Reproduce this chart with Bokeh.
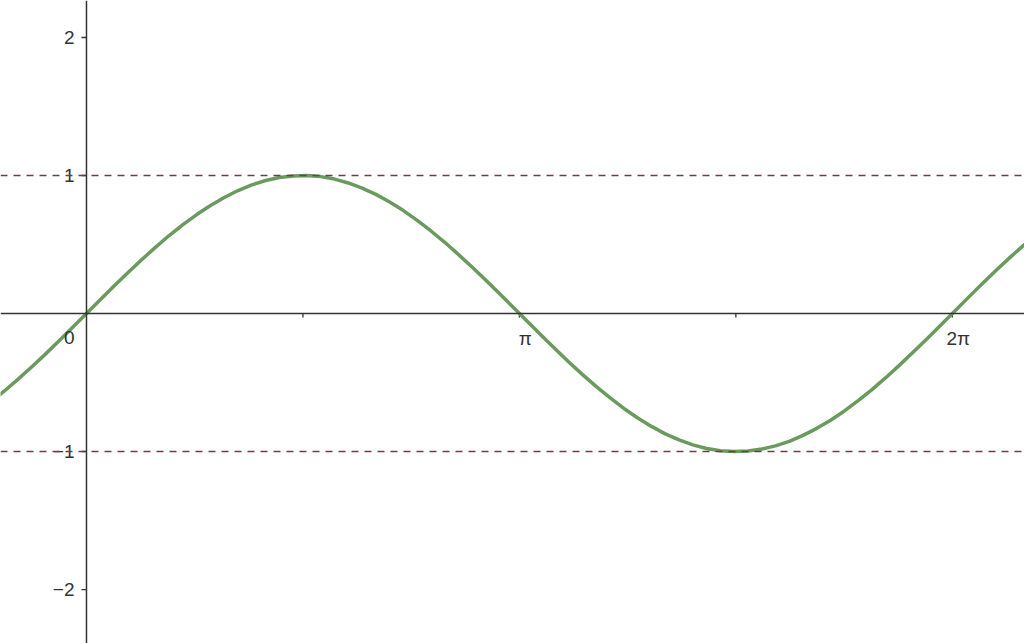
import numpy as np
from bokeh.plotting import figure
from bokeh.models import Span
from bokeh.core.properties import value
from bokeh.embed import file_html
from bokeh.resources import INLINE

# curve (x in radians, y = f(x))
curve_x = [-0.7, -0.6, -0.5, -0.4, -0.3, -0.2, -0.1, 0.0, 0.1, 0.2, 0.3, 0.4,
           0.5, 0.6, 0.7, 0.8, 0.9, 1.0, 1.1, 1.2, 1.3, 1.4, 1.5, 1.6,
           1.7, 1.8, 1.9, 2.0, 2.1, 2.2, 2.3, 2.4, 2.5, 2.6, 2.7, 2.8,
           2.9, 3.0, 3.1, 3.2, 3.3, 3.4, 3.5, 3.6, 3.7, 3.8, 3.9, 4.0,
           4.1, 4.2, 4.3, 4.4, 4.5, 4.6, 4.7, 4.8, 4.9, 5.0, 5.1, 5.2,
           5.3, 5.4, 5.5, 5.6, 5.7, 5.8, 5.9, 6.0, 6.1, 6.2, 6.3, 6.4,
           6.5, 6.6, 6.7, 6.8, 6.9]
curve_y = [-0.644, -0.565, -0.479, -0.389, -0.296, -0.199, -0.100, 0.000, 0.100, 0.199, 0.296, 0.389,
           0.479, 0.565, 0.644, 0.717, 0.783, 0.841, 0.891, 0.932, 0.964, 0.985, 0.997, 1.000,
           0.992, 0.974, 0.946, 0.909, 0.863, 0.808, 0.746, 0.675, 0.598, 0.516, 0.427, 0.335,
           0.239, 0.141, 0.042, -0.058, -0.158, -0.256, -0.351, -0.443, -0.530, -0.612, -0.688, -0.757,
           -0.818, -0.872, -0.916, -0.952, -0.978, -0.994, -1.000, -0.996, -0.982, -0.959, -0.926, -0.883,
           -0.832, -0.773, -0.706, -0.631, -0.551, -0.465, -0.374, -0.279, -0.182, -0.083, 0.017, 0.117,
           0.215, 0.312, 0.405, 0.494, 0.578]

# dashed bounds
bound_levels = [1.0, -1.0]

# axis ticks
x_ticks = [np.pi / 2, np.pi, 3 * np.pi / 2, 2 * np.pi]
x_tick_labels = ["", "π", "", "2π"]
y_ticks = [2, 1, -1, -2]
y_tick_labels = ["2", "1", "−1", "−2"]

FONT = value("Liberation Sans")
AXIS_COLOR = "#333333"
PX = 1 / 137.8  # one screen pixel in data units

p = figure(width=1024, height=643, output_backend="svg", toolbar_location=None,
           x_range=(-0.624, 6.807), y_range=(-2.391, 2.268),
           x_axis_type=None, y_axis_type=None, min_border=0)
p.grid.visible = False
p.outline_line_color = None
p.background_fill_color = "white"

# axes through the origin
p.add_layout(Span(location=0, dimension="width", line_color=AXIS_COLOR, line_width=1.5))
p.add_layout(Span(location=0, dimension="height", line_color=AXIS_COLOR, line_width=1.5))

# tick marks
p.segment(x0=x_ticks, y0=[0] * len(x_ticks), x1=x_ticks, y1=[-4 * PX] * len(x_ticks),
          line_color=AXIS_COLOR, line_width=1.3)
p.segment(x0=[-5 * PX] * len(y_ticks), y0=y_ticks, x1=[0] * len(y_ticks), y1=y_ticks,
          line_color=AXIS_COLOR, line_width=1.3)

# the curve
p.line(curve_x, curve_y, line_color="#6a9a5e", line_width=3.5, line_join="round")

# dashed lines at +-1
for lvl in bound_levels:
    p.add_layout(Span(location=lvl, dimension="width", line_color="#6b3f45",
                      line_width=1.4, line_dash="7 6"))

# tick labels
p.text(x_ticks, [0] * len(x_ticks), text=x_tick_labels, text_font=FONT,
       text_font_size="19px", text_color=AXIS_COLOR, text_align="center",
       text_baseline="alphabetic", x_offset=6, y_offset=25)
p.text([0] * len(y_ticks), y_ticks, text=y_tick_labels, text_font=FONT,
       text_font_size="19px", text_color=AXIS_COLOR, text_align="right",
       text_baseline="middle", x_offset=-12, y_offset=0)
p.text([0], [0], text=["0"], text_font=FONT, text_font_size="19px",
       text_color=AXIS_COLOR, text_align="right", text_baseline="alphabetic",
       x_offset=-12, y_offset=24)

open("out.html", "w").write(file_html(p, INLINE))
